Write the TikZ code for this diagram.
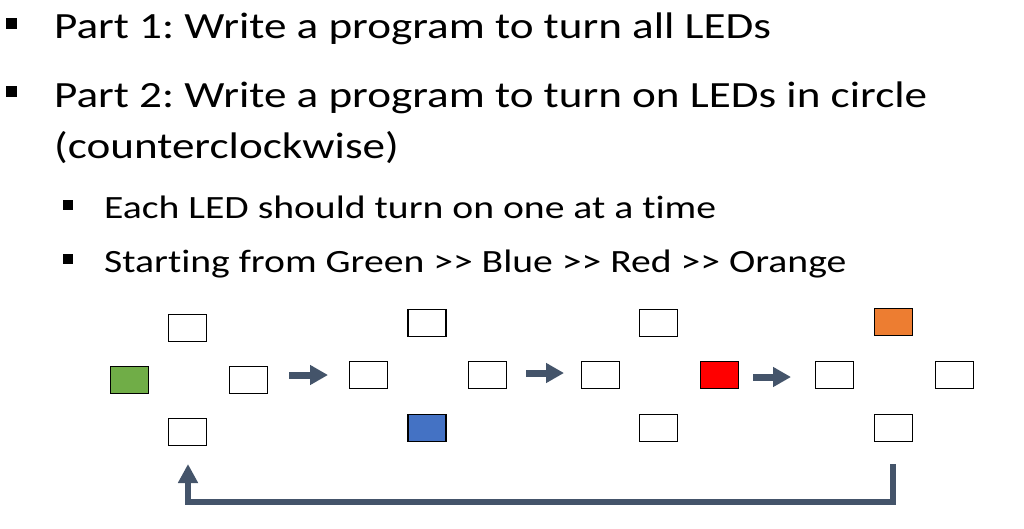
\documentclass[tikz,border=0pt]{standalone}
\usepackage{fontspec}
\setmainfont[FakeStretch=1.22, Ligatures=NoCommon]{Carlito}
\usetikzlibrary{arrows.meta}
\definecolor{arrowc}{HTML}{44546A}
\definecolor{ledgreen}{HTML}{70AD47}
\definecolor{ledblue}{HTML}{4472C4}
\definecolor{ledred}{HTML}{FF0000}
\definecolor{ledorange}{HTML}{ED7D31}
\tikzset{
  led/.style={draw=black, line width=1.3pt, minimum width=38pt, minimum height=27pt, inner sep=0pt, fill=white},
  bigtext/.style={anchor=base west, inner sep=0pt, font=\fontsize{37}{44}\selectfont},
  subtext/.style={anchor=base west, inner sep=0pt, font=\fontsize{32.5}{38}\selectfont},
  bullet/.style={fill=black, inner sep=0pt, minimum size=11pt},
  subbullet/.style={fill=black, inner sep=0pt, minimum size=10pt},
  bigarrow/.style={draw=arrowc, line width=7pt, -{Triangle[length=18pt,width=19pt]}},
  looparrow/.style={draw=arrowc, line width=6pt, line join=miter, -{Triangle[length=19pt,width=19pt]}}
}
\frenchspacing
\begin{document}
\begin{tikzpicture}[x=1pt,y=-1pt]
\useasboundingbox (0,0) rectangle (1024,528);
% text
\node[bullet] (bu1) at (11.5,23.5) {};
\node[bigtext] (t1) at (54,38) {Part 1: Write a program to turn all LEDs};
\node[bullet] (bu2) at (11.5,91.5) {};
\node[bigtext] (t2) at (54,107) {Part 2: Write a program to turn on LEDs in circle};
\node[bigtext] (t3) at (54,158) {(counterclockwise)};
\node[subbullet] (sb1) at (67.5,205) {};
\node[subtext] (t4) at (104,218) {Each LED should turn on one at a time};
\node[subbullet] (sb2) at (67.5,259) {};
\node[subtext] (t5) at (104,272) {Starting from Green >{}> Blue >{}> Red >{}> Orange};
% group 1
\node[led] (t1g) at (187.5,328) {};
\node[led, fill=ledgreen] (l1g) at (129.5,380) {};
\node[led] (r1g) at (248.5,380) {};
\node[led] (b1g) at (187.5,432) {};
% group 2
\node[led] (t2g) at (427,323) {};
\node[led] (l2g) at (368.5,375) {};
\node[led] (r2g) at (487.5,375) {};
\node[led, fill=ledblue] (b2g) at (427,428) {};
% group 3
\node[led] (t3g) at (658.5,323) {};
\node[led] (l3g) at (600.5,375) {};
\node[led, fill=ledred] (r3g) at (719.5,375) {};
\node[led] (b3g) at (658.5,428) {};
% group 4
\node[led, fill=ledorange] (t4g) at (893.5,322) {};
\node[led] (l4g) at (834.5,375) {};
\node[led] (r4g) at (954.5,375) {};
\node[led] (b4g) at (893.5,428) {};
% arrows
\coordinate (a1s) at (289,375);
\coordinate (a1e) at (328,375);
\coordinate (a2s) at (526,373);
\coordinate (a2e) at (564,373);
\coordinate (a3s) at (753,377);
\coordinate (a3e) at (791,377);
\draw[bigarrow] (a1s) -- (a1e);
\draw[bigarrow] (a2s) -- (a2e);
\draw[bigarrow] (a3s) -- (a3e);
\coordinate (ls) at (893,464);
\coordinate (le) at (188,464);
\draw[looparrow] (ls) -- (893,502) -- (188,502) -- (le);
\end{tikzpicture}
\end{document}
